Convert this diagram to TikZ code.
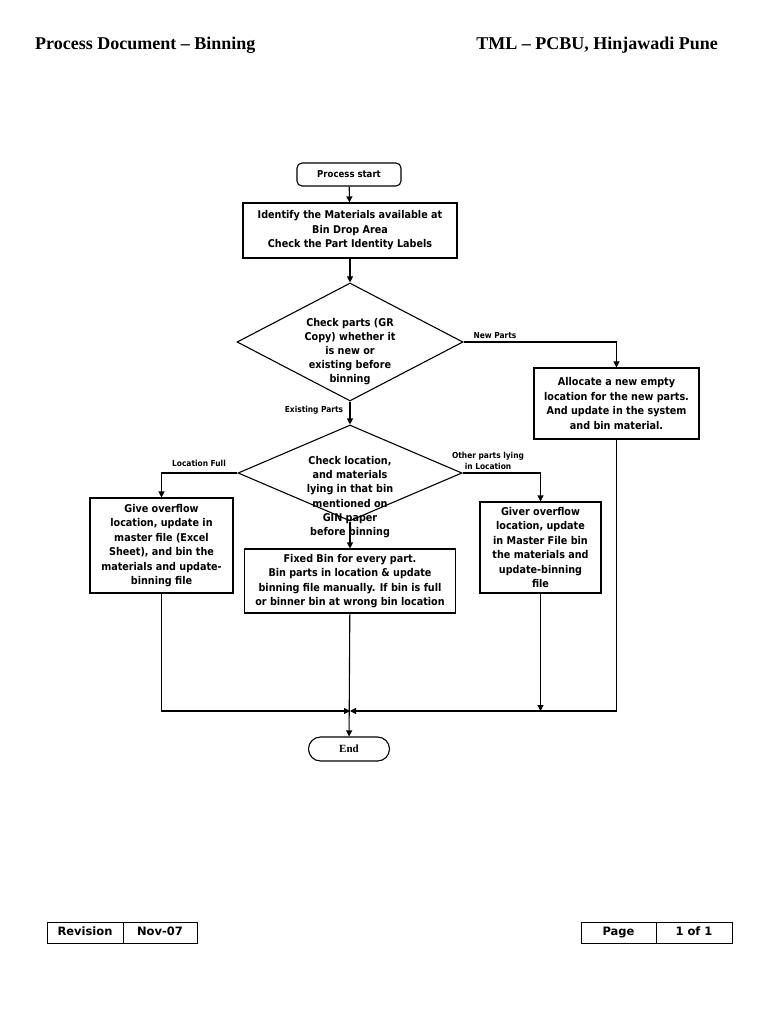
\documentclass[tikz,border=0pt]{standalone}
\usepackage{fontspec}
\setmainfont{Liberation Serif}
\newfontfamily\boxfont{DejaVu Sans Condensed}
\newfontfamily\footfont{DejaVu Sans}
\usetikzlibrary{arrows.meta,positioning,shapes,shapes.geometric}

\begin{document}
\begin{tikzpicture}[x=1pt,y=-1pt]
\useasboundingbox[fill=white] (0,0) rectangle (768,1024);
\tikzstyle{pbox}=[draw, line width=1.1pt, align=center, inner sep=0pt,
  font=\boxfont\bfseries\fontsize{10.7}{14.5}\selectfont]
\tikzstyle{dnode}=[draw, diamond, line width=1.1pt, inner sep=0pt]
\tikzstyle{dtext}=[align=center, inner sep=0pt,
  font=\boxfont\bfseries\fontsize{10.7}{14.2}\selectfont]
\tikzstyle{lbl}=[align=center, inner sep=0pt,
  font=\boxfont\bfseries\fontsize{8.3}{10.5}\selectfont]
\tikzstyle{hdr}=[inner sep=0pt, font=\bfseries\fontsize{18}{20}\selectfont]
\tikzstyle{fcell}=[draw, line width=0.9pt, minimum height=21pt, inner sep=0pt,
  text height=8.5pt, text depth=2.5pt,
  font=\footfont\bfseries\fontsize{11.5}{13}\selectfont]
\tikzstyle{conn}=[line width=1.1pt, -{Triangle[length=6pt,width=6pt]}]

\node[hdr, anchor=base west] (title) at (35,50) {Process Document – Binning};
\node[hdr, anchor=base east] (site) at (718,50) {TML – PCBU, Hinjawadi Pune};

\node[pbox, rounded corners=5pt, minimum width=104pt, minimum height=23pt,
  font=\boxfont\bfseries\fontsize{9.5}{11}\selectfont] (start) at (349,174.5) {Process start};
\node[pbox, minimum width=214pt, minimum height=55pt] (ident) at (350,230.5)
  {Identify the Materials available at\\Bin Drop Area\\Check the Part Identity Labels};
\node[dnode, minimum width=226pt, minimum height=118pt] (chk1) at (350,342) {};
\node[dtext] (chk1txt) at (350,351.5)
  {Check parts (GR\\Copy) whether it\\is new or\\existing before\\binning};
\node[pbox, minimum width=165pt, minimum height=71pt] (newloc) at (616.5,403.5)
  {Allocate a new empty\\location for the new parts.\\And update in the system\\and bin material.};
\node[dnode, minimum width=224pt, minimum height=96pt] (chk2) at (350,473) {};
\node[dtext] (chk2txt) at (350,497)
  {Check location,\\and materials\\lying in that bin\\mentioned on\\GIN paper\\before binning};
\node[pbox, minimum width=143pt, minimum height=95pt] (ovf) at (161.5,545.5)
  {Give overflow\\location, update in\\master file (Excel\\Sheet), and bin the\\materials and update-\\binning file};
\node[pbox, minimum width=211pt, minimum height=64pt] (fixed) at (350,581)
  {Fixed Bin for every part.\\Bin parts in location \& update\\binning file manually. If bin is full\\or binner bin at wrong bin location};
\node[pbox, minimum width=121pt, minimum height=91pt] (giver) at (540.5,547.5)
  {Giver overflow\\location, update\\in Master File bin\\the materials and\\update-binning\\file};
\node[draw, line width=1.1pt, rounded corners=12pt, minimum width=81pt, minimum height=24pt,
  inner sep=0pt, font=\bfseries\fontsize{11}{12}\selectfont] (stop) at (349,749) {End};
\coordinate (mrg) at (350,711);

\node[lbl] (lnew) at (495,336) {New Parts};
\node[lbl] (lexist) at (314,410) {Existing Parts};
\node[lbl] (lfull) at (199,463) {Location Full};
\node[lbl] (lother) at (488,461) {Other parts lying\\in Location};

\draw[conn] (start) -- (ident);
\draw[conn] (ident) -- (chk1);
\draw[conn] (chk1.east) -| (newloc.north);
\draw[conn] (chk1.south) -- (chk2.north);
\draw[conn] (chk2.west) -| (ovf.north);
\draw[conn] (chk2.east) -| (giver.north);
\draw[conn] (chk2.south) -- (fixed.north);
\draw[conn] (fixed) -- (stop);
\draw[conn] (ovf.south) |- (mrg);
\draw[conn] (newloc.south) |- (mrg);
\draw[conn] (giver.south) -- (giver.south |- mrg);

\node[fcell, minimum width=76pt] (rev) at (85,932.5) {Revision};
\node[fcell, minimum width=74pt] (revval) at (160,932.5) {Nov-07};
\node[fcell, minimum width=75pt] (page) at (618.5,932.5) {Page};
\node[fcell, minimum width=76pt] (pageval) at (694,932.5) {1 of 1};
\end{tikzpicture}
\end{document}
